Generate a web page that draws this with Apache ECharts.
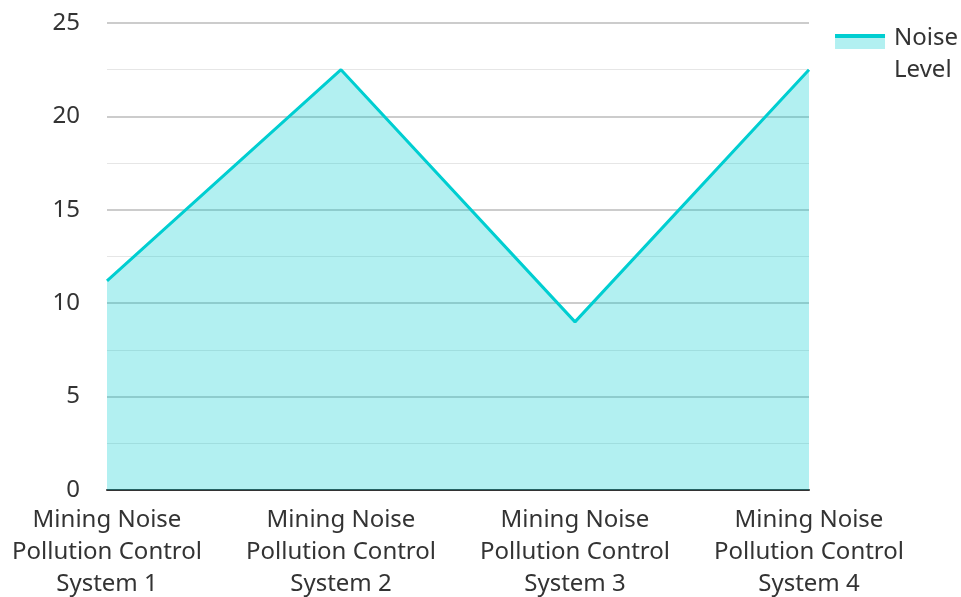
<!DOCTYPE html>
<html>
<head>
<meta charset="utf-8">
<script src="https://cdn.jsdelivr.net/npm/echarts@6/dist/echarts.min.js"></script>
<style>
  html, body { margin: 0; padding: 0; background: #fff; }
  #chart { width: 961px; height: 597px; }
</style>
</head>
<body>
<div id="chart"></div>
<script>
// Noise level per control system
const categories = [
  'Mining Noise\nPollution Control\nSystem 1',
  'Mining Noise\nPollution Control\nSystem 2',
  'Mining Noise\nPollution Control\nSystem 3',
  'Mining Noise\nPollution Control\nSystem 4'
];
const noiseLevel = [11.2, 22.5, 9, 22.5];
const seriesName = 'Noise Level';

const FONT = '"Noto Sans", "Open Sans", sans-serif';
const LINE_COLOR = '#00CED1';
const AREA_COLOR = '#b2f0f1';
const chart = echarts.init(document.getElementById('chart'), null, { renderer: 'canvas' });

// Legend swatch: a stroke on top of a filled band, like the series itself
const legendSwatch = new echarts.graphic.LinearGradient(0, 0, 0, 1, [
  { offset: 0, color: LINE_COLOR },
  { offset: 0.1, color: LINE_COLOR },
  { offset: 0.1, color: AREA_COLOR },
  { offset: 0.375, color: AREA_COLOR },
  { offset: 0.375, color: 'rgba(255,255,255,0)' },
  { offset: 1, color: 'rgba(255,255,255,0)' }
]);

chart.setOption({
  animation: false,
  textStyle: { fontFamily: FONT },
  grid: {
    left: 107, right: 152, top: 23, bottom: 107,
    containLabel: false, outerBoundsMode: 'none'
  },
  legend: {
    right: 3,
    top: 22,
    padding: 0,
    orient: 'vertical',
    icon: 'rect',
    itemWidth: 50,
    itemHeight: 40,
    itemStyle: { color: legendSwatch, borderWidth: 0 },
    formatter: function (name) { return name.replace(' ', '\n'); },
    textStyle: { fontFamily: FONT, fontSize: 24, color: '#333', lineHeight: 32, padding: [0, 0, 0, 4] }
  },
  xAxis: {
    type: 'category',
    data: categories,
    boundaryGap: false,
    axisLine: { show: true, lineStyle: { color: '#333', width: 2 } },
    axisTick: { show: false },
    axisLabel: {
      fontFamily: FONT, fontSize: 24, color: '#333', lineHeight: 32,
      margin: 14, interval: 0, align: 'center'
    },
    splitLine: { show: false }
  },
  yAxis: {
    type: 'value',
    min: 0,
    max: 25,
    interval: 5,
    axisLine: { show: false },
    axisTick: { show: false },
    axisLabel: { fontFamily: FONT, fontSize: 24, color: '#333', margin: 27 },
    splitLine: { show: true, lineStyle: { color: '#cccccc', width: 2 } },
    minorTick: { show: false, splitNumber: 2 },
    minorSplitLine: { show: true, lineStyle: { color: '#e6e6e6', width: 1 } }
  },
  series: [{
    name: seriesName,
    type: 'line',
    data: noiseLevel,
    symbol: 'none',
    lineStyle: { color: LINE_COLOR, width: 3 },
    itemStyle: { color: LINE_COLOR },
    areaStyle: { color: LINE_COLOR, opacity: 0.3 }
  }]
});
</script>
</body>
</html>
